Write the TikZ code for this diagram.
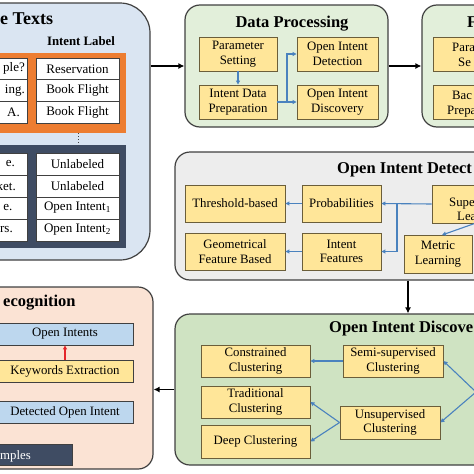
\documentclass[tikz,border=0pt]{standalone}
\usepackage{fontspec}
\setmainfont{Liberation Serif}
\usetikzlibrary{arrows.meta,calc}
\definecolor{lpfill}{HTML}{DAE5F2}
\definecolor{orng}{HTML}{ED7D31}
\definecolor{darkb}{HTML}{3F4C63}
\definecolor{greenA}{HTML}{E2EFDA}
\definecolor{greenB}{HTML}{CFE3C2}
\definecolor{grayA}{HTML}{EDEDED}
\definecolor{yfill}{HTML}{FFE699}
\definecolor{yborder}{HTML}{6B5E3A}
\definecolor{ablue}{HTML}{4A82BE}
\definecolor{peach}{HTML}{FBE3D4}
\definecolor{bfill}{HTML}{BDD7EE}
\definecolor{redA}{HTML}{E4262B}
\definecolor{bord}{HTML}{404040}
\newcommand\boxfont{\fontsize{12.8}{14.5}\selectfont}
\newcommand\cellfont{\fontsize{13}{15}\selectfont}
\newcommand\titlefont{\fontsize{16.5}{18}\selectfont\bfseries}
\tikzset{
  panel/.style={draw=bord, line width=1.2pt, rounded corners=15pt, inner sep=0pt},
  ybox/.style={draw=yborder, fill=yfill, line width=0.9pt, align=center, font=\boxfont, inner sep=0pt},
  bbox/.style={draw=bord, fill=bfill, line width=0.9pt, align=center, font=\boxfont, inner sep=0pt},
  cell/.style={draw=bord, fill=white, line width=0.9pt, align=center, font=\cellfont, inner sep=0pt},
  barrow/.style={draw=ablue, line width=1.1pt, -{Triangle[length=4pt,width=4pt]}},
  blk/.style={draw=black, line width=1.8pt, -{Latex[length=6pt,width=6pt]}},
  ttl/.style={font=\titlefont, inner sep=0pt, anchor=base west},
  frag/.style={font=\boxfont, inner sep=0pt, anchor=base west},
  cfrag/.style={font=\cellfont, inner sep=0pt, anchor=east},
}
\begin{document}
\begin{tikzpicture}[x=1pt,y=-1pt]
\useasboundingbox (0,0) rectangle (474,474);
\clip (0,0) rectangle (474,474);

% ---------- left panel: texts ----------
\node[panel, fill=lpfill, rounded corners=30pt, minimum width=190pt, minimum height=257pt] (lp) at (55,131.5) {};
\node[ttl, font=\fontsize{18}{20}\selectfont\bfseries] (lpt) at (0,24.5) {e Texts};
\node[font=\fontsize{12.8}{14}\selectfont\bfseries, inner sep=0pt, anchor=base] (lbl) at (81,45.5) {Intent Label};
\node[fill=orng, draw=none, minimum width=166pt, minimum height=80pt, inner sep=0pt] (orect) at (43,93) {};
\node[fill=darkb, draw=none, minimum width=166pt, minimum height=103pt, inner sep=0pt] (drect) at (43,196.5) {};
\draw[bord, line width=0.9pt, dotted] (orect.south -| 78,0) -- (drect.north -| 78,0);
% orange cells
\node[cell, minimum width=67pt, minimum height=21.7pt] (la1) at (-6.5,68.8) {};
\node[cell, minimum width=67pt, minimum height=21.7pt] (la2) at (-6.5,90.5) {};
\node[cell, minimum width=67pt, minimum height=21.7pt] (la3) at (-6.5,112.2) {};
\node[cfrag] (ta1) at (25,68.8) {ple?};
\node[cfrag] (ta2) at (25,90.5) {ing.};
\node[cfrag] (ta3) at (20,112.2) {A.};
\node[cell, minimum width=83pt, minimum height=21.7pt] (ra1) at (77.5,68.8) {Reservation};
\node[cell, minimum width=83pt, minimum height=21.7pt] (ra2) at (77.5,90.5) {Book Flight};
\node[cell, minimum width=83pt, minimum height=21.7pt] (ra3) at (77.5,112.2) {Book Flight};
% dark cells
\node[cell, minimum width=67pt, minimum height=22pt] (lb1) at (-6.5,164) {};
\node[cell, minimum width=67pt, minimum height=22pt] (lb2) at (-6.5,186) {};
\node[cell, minimum width=67pt, minimum height=22pt] (lb3) at (-6.5,208) {};
\node[cell, minimum width=67pt, minimum height=22pt] (lb4) at (-6.5,230) {};
\node[cfrag] (tb1) at (15,164) {e.};
\node[cfrag] (tb2) at (16,186) {ket.};
\node[cfrag] (tb3) at (12.5,208) {e.};
\node[cfrag] (tb4) at (13,230) {rs.};
\node[cell, minimum width=83pt, minimum height=22pt] (rb1) at (77.5,164) {Unlabeled};
\node[cell, minimum width=83pt, minimum height=22pt] (rb2) at (77.5,186) {Unlabeled};
\node[cell, minimum width=83pt, minimum height=22pt] (rb3) at (77.5,208) {Open Intent\textsubscript{1}};
\node[cell, minimum width=83pt, minimum height=22pt] (rb4) at (77.5,230) {Open Intent\textsubscript{2}};

% ---------- data processing ----------
\node[panel, fill=greenA, minimum width=203pt, minimum height=122pt] (dp) at (286.5,66) {};
\node[font=\titlefont, inner sep=0pt, anchor=base] (dpt) at (292,27) {Data Processing};
\node[ybox, minimum width=78pt, minimum height=34pt] (ps) at (238,54) {Parameter\\Setting};
\node[ybox, minimum width=78pt, minimum height=34pt] (idp) at (238,102) {Intent Data\\Preparation};
\node[ybox, minimum width=81pt, minimum height=34pt] (oid) at (337.5,54) {Open Intent\\Detection};
\node[ybox, minimum width=81pt, minimum height=34pt] (odi) at (337.5,102) {Open Intent\\Discovery};
\draw[barrow] (ps.south) -- (idp.north);
\draw[barrow] (idp.east) -- (odi.west);
\coordinate (j1) at (287,102);
\draw[barrow] (j1) |- (oid.west);

% ---------- F panel ----------
\node[panel, fill=greenA, minimum width=198pt, minimum height=122pt] (fp) at (521,66) {};
\node[ttl] (fpt) at (467,27) {F};
\node[ybox, minimum width=107pt, minimum height=34pt] (fb1) at (486.5,54) {};
\node[ybox, minimum width=107pt, minimum height=34pt] (fb2) at (486.5,102) {};
\node[frag] (f1) at (452,51.5) {Para};
\node[frag] (f2) at (458,66) {Se};
\node[frag] (f3) at (452,99.5) {Bac};
\node[frag] (f4) at (447,114) {Prepa};

% ---------- open intent detection ----------
\node[panel, fill=grayA, minimum width=445pt, minimum height=128pt] (det) at (397.5,216) {};
\node[ttl] (dett) at (337,173) {Open Intent Detect};
\node[ybox, minimum width=100pt, minimum height=37pt] (thr) at (235,203.5) {Threshold-based};
\node[ybox, minimum width=79pt, minimum height=37pt] (prob) at (341.5,203.5) {Probabilities};
\node[ybox, minimum width=98pt, minimum height=38pt] (sup) at (481,204) {};
\node[frag] (s1) at (449,206) {Supe};
\node[frag] (s2) at (457,220) {Lea};
\node[ybox, minimum width=100pt, minimum height=37pt] (geo) at (235,251.5) {Geometrical\\Feature Based};
\node[ybox, minimum width=79pt, minimum height=37pt] (ifeat) at (341.5,251.5) {Intent\\Features};
\node[ybox, minimum width=68pt, minimum height=38pt] (met) at (438,254) {Metric\\Learning};
\draw[barrow] (sup.west) -- (prob.east);
\coordinate (j2) at (397,204);
\draw[barrow] (j2) |- (ifeat.east);
\draw[barrow] (prob.west) -- (thr.east);
\draw[barrow] (ifeat.west) -- (geo.east);
\coordinate (supm) at (476,223);
\coordinate (metn) at (442,235);
\draw[barrow] (supm) -- (metn);

% ---------- open intent discovery ----------
\node[panel, fill=greenB, minimum width=445pt, minimum height=151pt] (disc) at (397.5,389.5) {};
\node[ttl] (disct) at (329,332) {Open Intent Discove};
\node[ybox, minimum width=109pt, minimum height=32pt] (con) at (255.5,361) {Constrained\\Clustering};
\node[ybox, minimum width=100pt, minimum height=32pt] (semi) at (393,361) {Semi-supervised\\Clustering};
\node[ybox, minimum width=109pt, minimum height=32pt] (trad) at (255.5,402) {Traditional\\Clustering};
\node[ybox, minimum width=109pt, minimum height=33pt] (deep) at (255.5,441.5) {Deep Clustering};
\node[ybox, minimum width=100pt, minimum height=33pt] (unsup) at (390,422.5) {Unsupervised\\Clustering};
\draw[barrow] (semi.west) -- (con.east);
\draw[barrow] (unsup.west) -- (trad.east);
\draw[barrow] (unsup.west) -- (deep.east);
\coordinate (src) at (476,392);
\draw[barrow] (src) -- (semi.east);
\draw[barrow] (src) -- (unsup.east);

% ---------- recognition ----------
\node[panel, fill=peach, minimum width=173pt, minimum height=182pt] (rec) at (66.5,378) {};
\node[ttl] (rect) at (3,306.5) {ecognition};
\node[bbox, minimum width=136pt, minimum height=22pt] (oi) at (65,334) {Open Intents};
\node[ybox, draw=bord, minimum width=136pt, minimum height=22pt] (kw) at (65,371) {Keywords Extraction};
\node[bbox, minimum width=136pt, minimum height=22pt] (doi) at (65,412) {Detected Open Intent};
\node[fill=darkb, draw=bord, line width=0.9pt, minimum width=112pt, minimum height=21pt, inner sep=0pt] (mp) at (16,454.5) {};
\node[frag, text=white] (mpt) at (0,459) {mples};
\draw[draw=redA, line width=1.1pt, -{Triangle[length=4pt,width=4pt]}] (kw.north) -- (oi.south);

% ---------- main arrows ----------
\draw[blk] (lp.east |- dp.west) -- (dp.west);
\draw[blk] (dp.east) -- (fp.west);
\coordinate (xa) at (408,0);
\draw[blk] (det.south -| xa) -- (disc.north -| xa);
\draw[blk] (disc.west) -- (rec.east |- disc.west);
\end{tikzpicture}
\end{document}
